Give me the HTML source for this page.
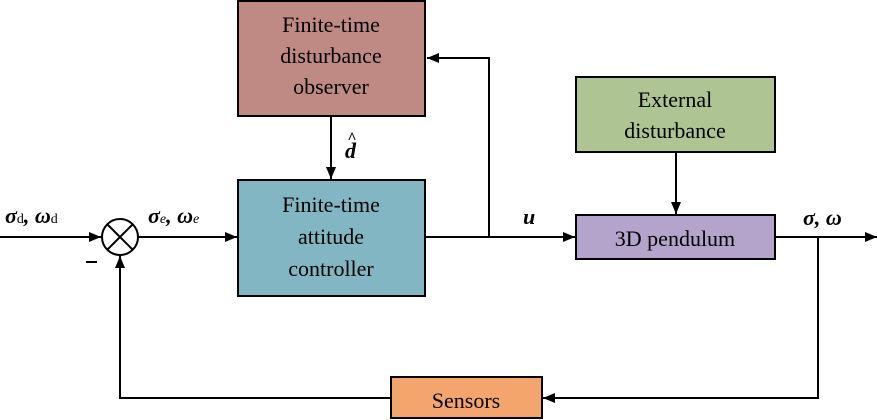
<!DOCTYPE html>
<html><head><meta charset="utf-8"><style>
html,body{margin:0;padding:0;background:#fff;}
svg{display:block;}
text{font-family:"Liberation Serif",serif;fill:#000;}
</style></head><body>
<svg width="877" height="420" viewBox="0 0 877 420" xmlns="http://www.w3.org/2000/svg">
<defs>
<marker id="a" markerWidth="12" markerHeight="10" refX="12" refY="5" orient="auto" markerUnits="userSpaceOnUse">
<path d="M0,0 L12,5 L0,10 z" fill="#000"/></marker>
</defs>
<g stroke="#000" stroke-width="2">
<rect x="238" y="1" width="187" height="115" fill="#c08a84"/>
<rect x="238" y="180" width="187" height="116" fill="#83b6c3"/>
<rect x="576" y="77" width="199" height="75" fill="#afc493"/>
<rect x="576" y="215" width="199" height="44" fill="#b4a3cb"/>
<rect x="391" y="377" width="151" height="41" fill="#f4a56e"/>
<circle cx="120" cy="237" r="18" fill="#fff"/>
<line x1="107" y1="224" x2="133" y2="250"/>
<line x1="133" y1="224" x2="107" y2="250"/>
</g>
<g stroke="#000" stroke-width="2" fill="none">
<line x1="0" y1="237" x2="101" y2="237" marker-end="url(#a)"/>
<line x1="138" y1="237" x2="237" y2="237" marker-end="url(#a)"/>
<line x1="425" y1="237" x2="575" y2="237" marker-end="url(#a)"/>
<polyline points="489,237 489,58 427,58" marker-end="url(#a)"/>
<line x1="331" y1="116" x2="331" y2="179" marker-end="url(#a)"/>
<line x1="676" y1="152" x2="676" y2="214" marker-end="url(#a)"/>
<line x1="775" y1="237" x2="877" y2="237" marker-end="url(#a)"/>
<polyline points="818,237 818,398 543,398" marker-end="url(#a)"/>
<polyline points="391,398 120,398 120,256" marker-end="url(#a)"/>
<line x1="86" y1="262" x2="97" y2="262"/>
</g>
<g font-size="22" text-anchor="middle">
<text x="331" y="32">Finite-time</text>
<text x="331" y="63">disturbance</text>
<text x="331" y="94">observer</text>
<text x="331" y="212">Finite-time</text>
<text x="331" y="244">attitude</text>
<text x="331" y="276">controller</text>
<text x="675" y="107">External</text>
<text x="675" y="138">disturbance</text>
<text x="675" y="246">3D pendulum</text>
<text x="466" y="408">Sensors</text>
</g>
<g font-size="22" font-weight="bold" font-style="italic">
<text x="5" y="223">σ<tspan font-size="14" font-weight="normal" font-style="normal">d</tspan>, ω<tspan font-size="14" font-weight="normal" font-style="normal">d</tspan></text>
<text x="148" y="223">σ<tspan font-size="14" font-weight="normal">e</tspan>, ω<tspan font-size="14" font-weight="normal">e</tspan></text>
<text x="523" y="224">u</text>
<text x="803" y="225">σ, ω</text>
<text x="345" y="158">d</text>
</g>
<text x="352" y="143" font-size="16" font-weight="bold" text-anchor="middle">^</text>
</svg>
</body></html>
